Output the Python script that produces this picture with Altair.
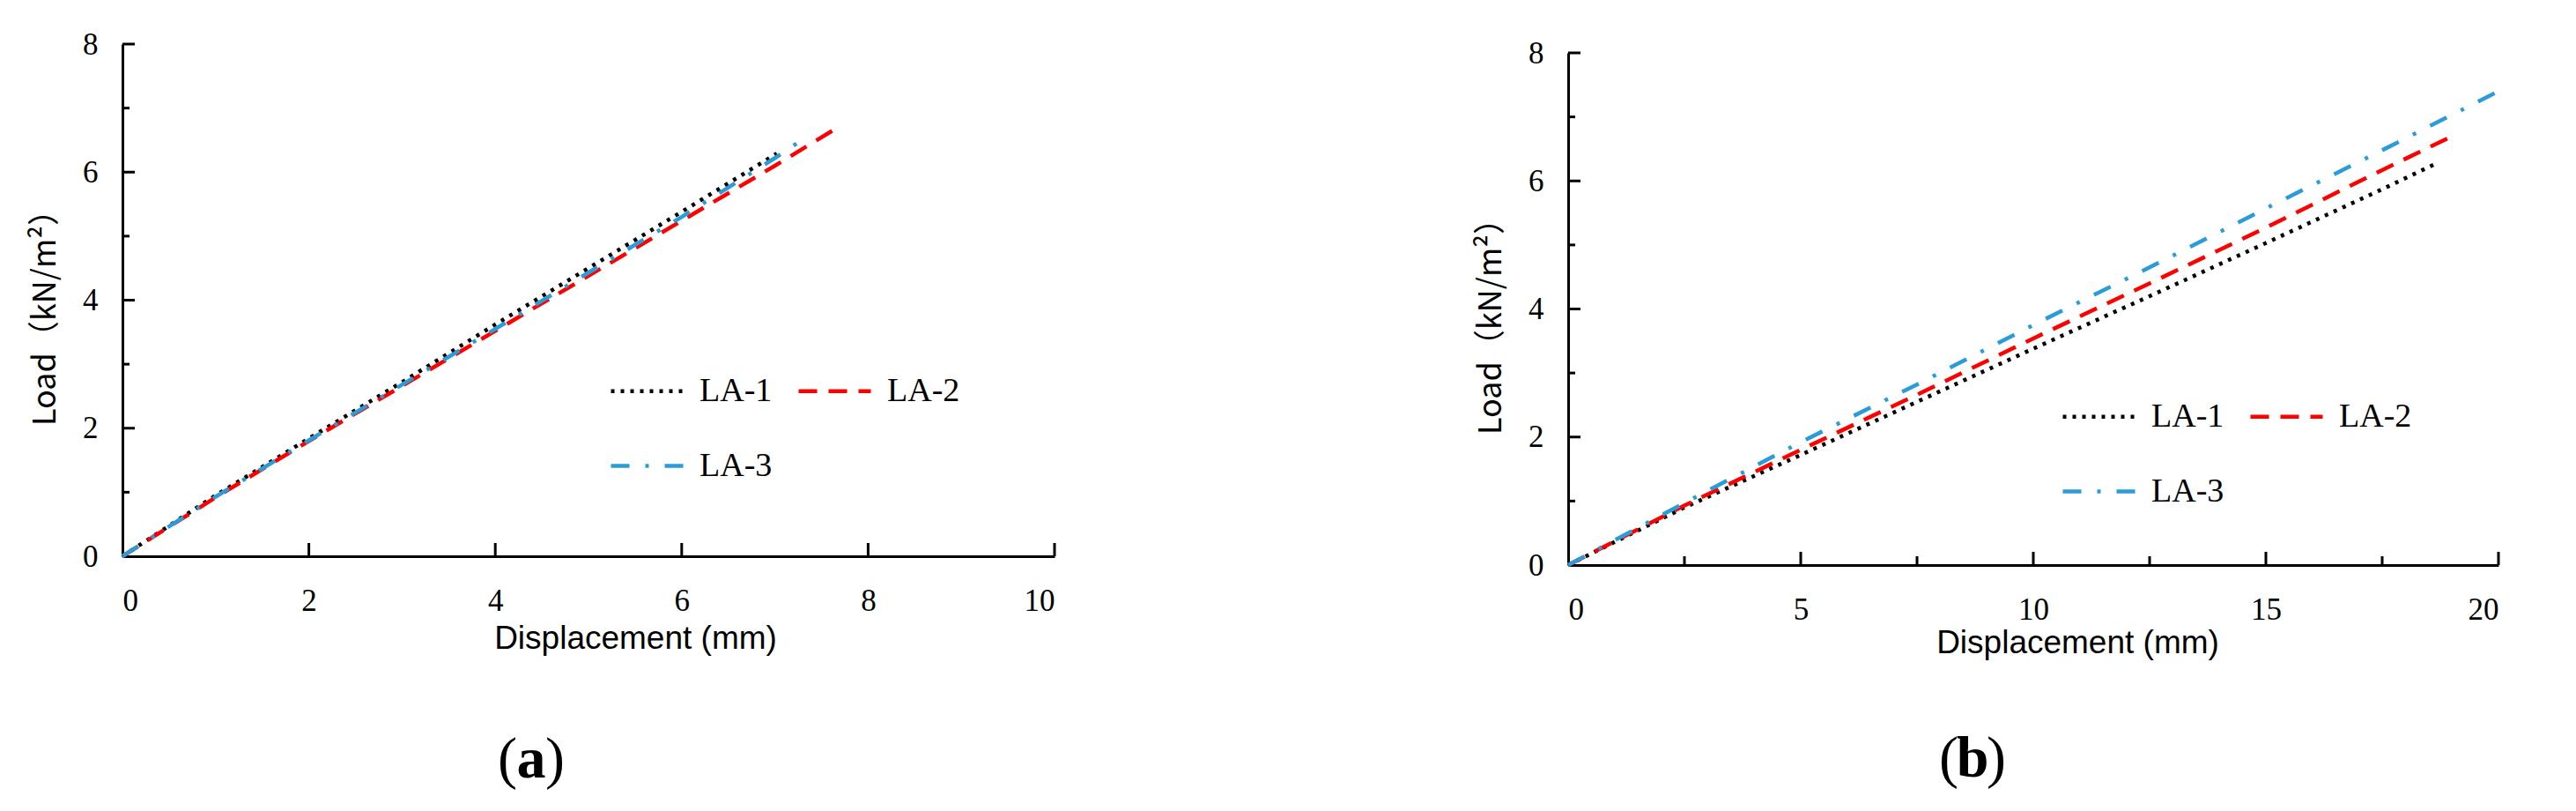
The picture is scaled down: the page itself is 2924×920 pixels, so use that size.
import altair as alt
import pandas as pd

# legend grid fills column-wise, so LA-3 is listed second to land on row 2
series = ["LA-1", "LA-3", "LA-2"]
colors = ["#000000", "#2b9cd8", "#ff0000"]
dashes = [[4, 7], [21, 18, 4, 18], [21, 13]]

# Panel (a)
xa1 = [0, 1, 2, 3, 4, 5, 6, 7.02]
ya1 = [0, 0.95, 1.84, 2.72, 3.62, 4.5, 5.38, 6.29]
xa2 = [0, 1, 2, 3, 4, 5, 6, 7, 7.62]
ya2 = [0, 0.92, 1.8, 2.66, 3.52, 4.38, 5.24, 6.1, 6.65]
xa3 = [0, 1, 2, 3, 4, 5, 6, 7, 7.35]
ya3 = [0, 0.93, 1.81, 2.68, 3.55, 4.43, 5.3, 6.22, 6.56]

# Panel (b)
xb1 = [0, 2.5, 5, 7.5, 10, 12.5, 15, 17.5, 18.65]
yb1 = [0, 0.9, 1.72, 2.55, 3.38, 4.2, 5.03, 5.87, 6.27]
xb2 = [0, 2.5, 5, 7.5, 10, 12.5, 15, 17.5, 18.92]
yb2 = [0, 0.93, 1.8, 2.66, 3.54, 4.4, 5.27, 6.17, 6.67]
xb3 = [0, 2.5, 5, 7.5, 10, 12.5, 15, 17.5, 20]
yb3 = [0, 0.97, 1.92, 2.82, 3.75, 4.65, 5.57, 6.48, 7.4]

xa_ticks = [0, 2, 4, 6, 8, 10]
xb_ticks = [0, 5, 10, 15, 20]
xb_minor = [2.5, 7.5, 12.5, 17.5]
y_ticks = [0, 2, 4, 6, 8]
y_minor = [1, 3, 5, 7]

X_TITLE = "Displacement (mm)"
Y_TITLE = "Load（kN/m²）"

H = 581


def frame(names, xs_list, ys_list):
    rows = []
    for name, xs, ys in zip(names, xs_list, ys_list):
        for i, (x, y) in enumerate(zip(xs, ys)):
            rows.append({"series": name, "x": x, "y": y, "i": i})
    return pd.DataFrame(rows)


def panel(df, xmax, xvals, xmajor, xminor, W, off, legx, legy, cap, capx, capy, titlex, titley):
    Ht = H + off
    legend = alt.Legend(
        title=None, orient="none", legendX=legx, legendY=legy, columns=2,
        symbolType="stroke", symbolSize=6724, symbolStrokeWidth=4.5,
        labelFont="Liberation Serif", labelFontSize=38, labelColor="black",
        labelOffset=16, columnPadding=20, rowPadding=22, padding=0,
    )
    lines = alt.Chart(df).mark_line(strokeWidth=4.5, strokeCap="butt").encode(
        x=alt.X("x:Q", scale=alt.Scale(domain=[0, xmax], nice=False, zero=True),
                axis=alt.Axis(values=xvals, format="d", title=X_TITLE, titleX=titlex, titleY=titley,
                              titleBaseline="middle", titleAlign="center",
                              labelPadding=33)),
        y=alt.Y("y:Q", scale=alt.Scale(domain=[0, 8], nice=False, range=[Ht, off]),
                axis=alt.Axis(values=y_ticks, format="d", title=Y_TITLE, titleX=-88, titleY=301 + off,
                              titleBaseline="middle", titleAlign="center",
                              titleFont="Noto Sans CJK SC", titleFontSize=36,
                              labelPadding=28)),
        color=alt.Color("series:N", scale=alt.Scale(domain=series, range=colors), legend=legend),
        strokeDash=alt.StrokeDash("series:N", scale=alt.Scale(domain=series, range=dashes), legend=legend),
        order="i:Q",
    )
    layers = [lines]
    xt = alt.Chart(pd.DataFrame({"v": xmajor})).mark_rule(color="black", strokeWidth=3).encode(
        x="v:Q", y=alt.value(Ht), y2=alt.value(Ht - 15))
    layers.append(xt)
    if xminor:
        xm = alt.Chart(pd.DataFrame({"v": xminor})).mark_rule(color="black", strokeWidth=3).encode(
            x="v:Q", y=alt.value(Ht), y2=alt.value(Ht - 10))
        layers.append(xm)
    yt = alt.Chart(pd.DataFrame({"v": y_ticks[1:]})).mark_rule(color="black", strokeWidth=3).encode(
        y="v:Q", x=alt.value(0), x2=alt.value(14))
    ym = alt.Chart(pd.DataFrame({"v": y_minor})).mark_rule(color="black", strokeWidth=3).encode(
        y="v:Q", x=alt.value(0), x2=alt.value(8))
    layers += [yt, ym]
    c1 = alt.Chart(pd.DataFrame({"t": ["("]})).mark_text(
        font="Liberation Serif", fontSize=66, align="right", baseline="middle", color="black"
    ).encode(text="t:N", x=alt.value(capx - 16), y=alt.value(capy))
    c2 = alt.Chart(pd.DataFrame({"t": [cap]})).mark_text(
        font="Liberation Serif", fontSize=66, fontWeight="bold", align="center", baseline="middle", color="black"
    ).encode(text="t:N", x=alt.value(capx), y=alt.value(capy))
    c3 = alt.Chart(pd.DataFrame({"t": [")"]})).mark_text(
        font="Liberation Serif", fontSize=66, align="left", baseline="middle", color="black"
    ).encode(text="t:N", x=alt.value(capx + 16), y=alt.value(capy))
    layers += [c1, c2, c3]
    return alt.layer(*layers).properties(width=W, height=Ht)


dfa = frame(["LA-1", "LA-2", "LA-3"], [xa1, xa2, xa3], [ya1, ya2, ya3])
dfb = frame(["LA-1", "LA-2", "LA-3"], [xb1, xb2, xb3], [yb1, yb2, yb3])

pa = panel(dfa, 10, xa_ticks, [2, 4, 6, 8, 10], [], 1058, 0, 552, 350, "a", 464, 812, 582, 93)
pb = panel(dfb, 20, xb_ticks, [5, 10, 15, 20], xb_minor, 1056, 10, 559, 379, "b", 459, 811, 578, 88)

chart = alt.hconcat(pa, pb, spacing=475).resolve_scale(
    x="independent", y="independent"
).resolve_legend(color="independent", strokeDash="independent").properties(
    padding={"left": 25, "top": 25, "right": 5, "bottom": 5}
).configure_view(strokeWidth=0).configure_axis(
    grid=False, ticks=False, domainColor="black", domainWidth=3,
    labelFont="Liberation Serif", labelFontSize=35, labelColor="black",
    titleFont="Liberation Sans", titleFontSize=37, titleFontWeight="normal", titleColor="black",
)

chart.save("out.html", embed_options={"renderer": "svg", "actions": False})
